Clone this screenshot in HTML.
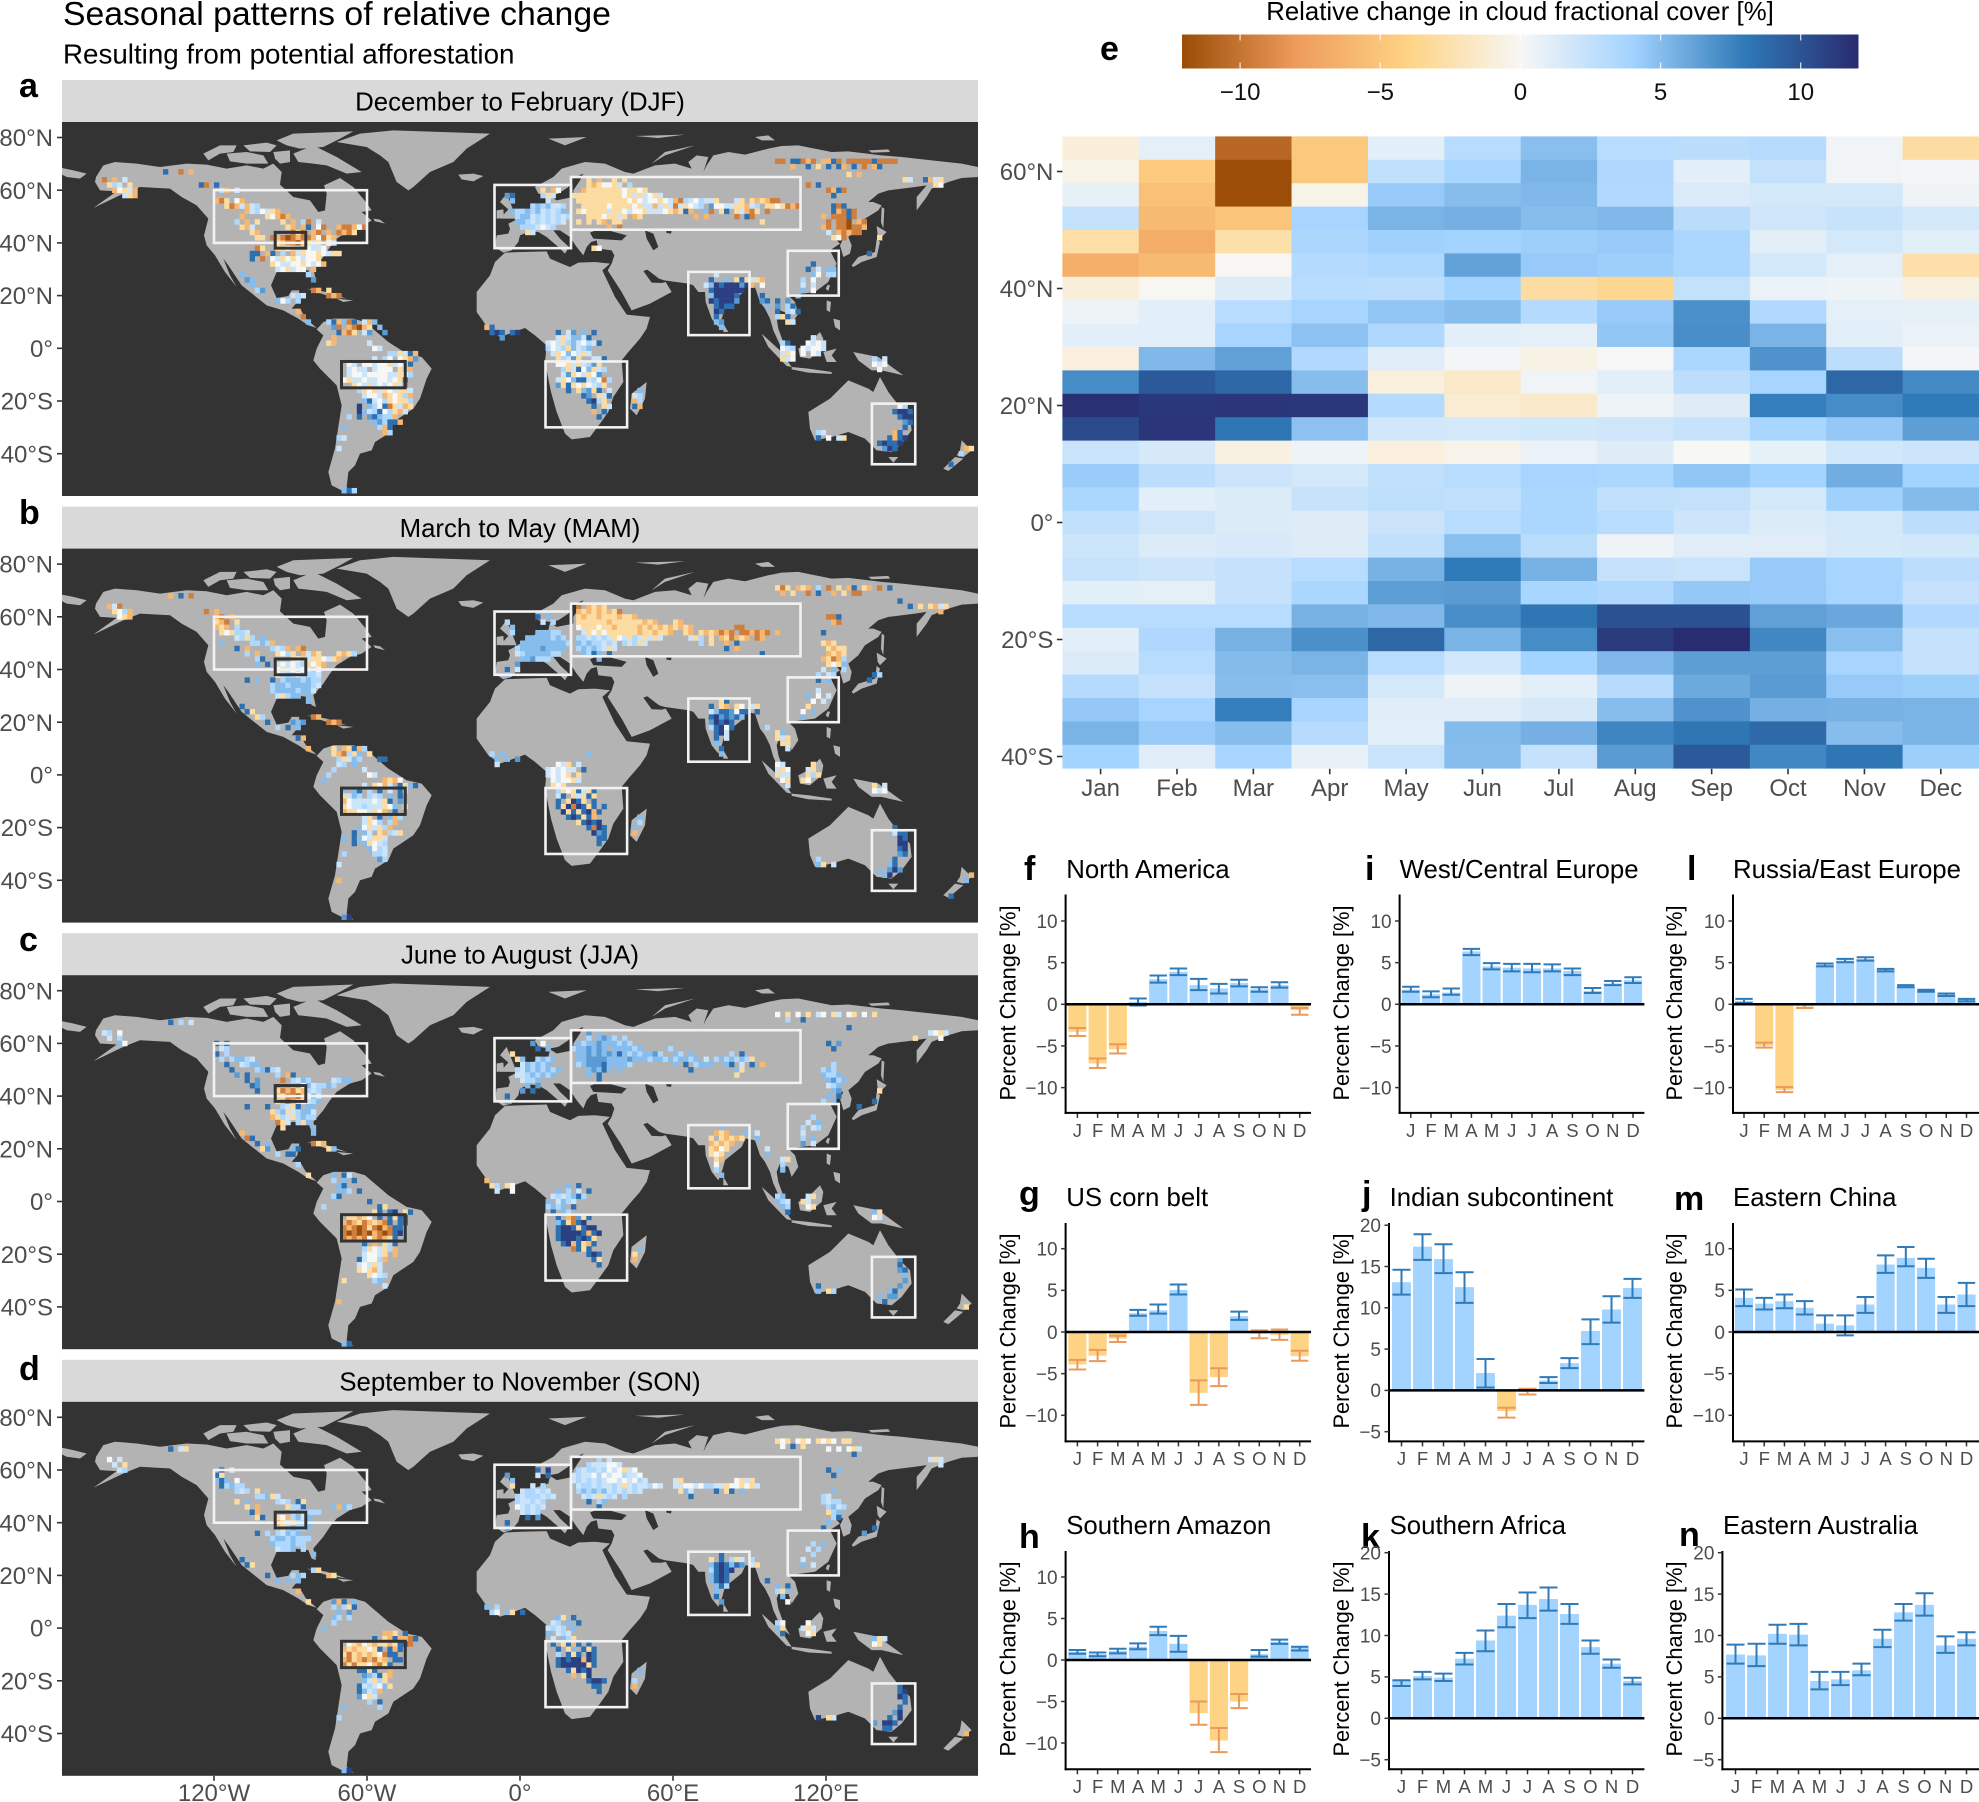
<!DOCTYPE html>
<html lang="en">
<head>
<meta charset="utf-8">
<title>Seasonal patterns of relative change</title>
<style>
html,body{margin:0;padding:0;background:#fff;width:1979px;height:1802px;overflow:hidden}
svg{display:block;font-family:"Liberation Sans",Arial,sans-serif}
.head{fill:#000;font-size:25.8px}
.letter{fill:#000;font-size:34px;font-weight:bold}
.ytitle{fill:#000;font-size:21.8px;text-anchor:middle}
</style>
</head>
<body>
<svg id="figure" xmlns="http://www.w3.org/2000/svg" width="1979" height="1802" viewBox="0 0 1979 1802">
<defs>
<g id="land" fill="#b3b3b3">
<path d="M108 165L130 130L165 120L230 125L300 135L380 125L440 128L500 140L560 130L610 140L640 125L665 150L660 188L700 225L750 235L775 270L795 265L800 215L792 190L840 168L880 195L920 243L935 265L905 270L935 295L905 315L870 325L830 350L810 375L790 405L760 440L768 475L755 470L745 445L700 440L650 450L633 490L650 528L685 522L695 505L718 505L712 540L695 560L720 560L738 590L770 618L745 610L715 590L670 565L620 550L570 510L545 490L505 430L490 410L510 460L530 495L495 450L465 400L440 370L432 340L445 290L410 250L365 225L330 200L240 195L190 215L100 258L170 208L120 205L105 180Z"/>
<path d="M6 138L40 145L80 155L60 170L20 165L6 158Z"/>
<path d="M770 622L790 600L820 590L880 590L915 600L950 630L985 660L1040 695L1085 705L1115 740L1100 770L1080 830L1060 860L1000 900L985 935L945 960L935 985L900 995L885 1030L865 1050L860 1095L880 1113L845 1105L815 1090L805 1050L825 980L845 850L830 790L780 740L760 715L770 680L790 640Z"/>
<path d="M830 60L900 35L1000 25L1290 35L1220 80L1180 120L1110 150L1060 195L1045 205L1010 180L985 120L960 100L920 75Z"/>
<path d="M700 95L760 70L830 105L905 150L860 155L800 130L760 125L715 120Z"/>
<path d="M500 95L560 90L610 100L625 125L560 125L510 118Z"/>
<path d="M430 95L480 70L530 70L520 90L480 95L445 115Z"/>
<path d="M650 55L700 35L880 28L840 50L790 75L720 80L680 70Z"/>
<path d="M550 70L620 62L650 70L630 90L570 88Z"/>
<path d="M640 90L690 85L690 120L660 125L645 110Z"/>
<path d="M1195 158L1240 155L1270 162L1240 178L1205 172Z"/>
<path d="M940 290L960 293L975 305L955 300L945 298Z"/>
<path d="M740 500L800 510L860 530L800 520Z"/>
<path d="M830 530L880 535L850 540Z"/>
<path d="M1320 240L1340 215L1370 290L1320 290L1345 262Z"/>
<path d="M1310 265L1330 262L1332 288L1310 290Z"/>
<g transform="translate(1365 0)">
<path d="M-55 340L-60 375L-35 392L-10 385L10 360L15 340L45 328L70 330L95 345L130 375L150 395L162 375L135 350L115 325L135 325L165 345L185 375L205 400L215 375L228 360L245 355L250 380L290 385L298 400L290 425L278 445L320 510L350 565L405 545L470 510L452 480L440 483L410 482L385 447L397 443L432 470L448 475L520 485L535 490L550 510L570 510L572 540L590 590L610 615L622 585L630 555L680 515L692 490L720 495L735 540L750 560L765 590L775 625L800 680L825 700L808 670L790 620L785 590L795 565L820 575L830 605L850 575L840 540L820 520L860 515L900 510L940 480L965 425L945 385L975 365L955 345L985 350L975 370L985 405L1005 395L1010 370L1000 345L1030 320L1050 290L1090 265L1100 250L1075 240L1060 240L1090 215L1120 205L1200 195L1235 190L1205 225L1205 265L1235 225L1250 200L1300 180L1340 168L1389 165L1389 135L1340 125L1250 115L1160 105L1100 100L1000 88L950 90L850 70L800 72L760 80L690 98L640 90L595 100L575 130L565 150L580 105L545 100L520 120L530 140L480 125L420 130L355 155L330 150L290 150L280 165L330 150L270 125L210 120L140 140L115 165L60 195L70 215L105 220L130 215L160 195L170 170L205 155L195 175L175 205L175 225L150 230L125 235L105 222L100 245L60 258L30 275L0 295L-20 305L-15 320L-20 335Z"/>
<path d="M-30 392L20 390L95 388L105 410L140 425L165 435L190 422L240 420L285 425L262 445L300 525L335 578L405 585L395 620L375 650L340 690L320 715L325 780L295 825L280 870L255 905L225 945L170 952L150 935L125 870L108 810L90 720L95 670L60 640L30 618L-45 645L-80 620L-115 570L-115 510L-75 460L-60 420Z"/>
<path d="M225 332L255 320L280 325L335 340L320 355L270 352L235 350Z" fill="#333333"/>
<path d="M390 325L415 335L430 375L415 385L395 350Z" fill="#333333"/>
<path d="M452 322L470 325L468 335L455 333Z" fill="#333333"/>
<path d="M395 780L390 830L365 880L345 860L350 815Z"/>
<path d="M625 605L640 630L625 630Z"/>
<path d="M1100 255L1108 260L1105 320L1098 300Z"/>
<path d="M1085 312L1115 330L1095 350L1088 340Z"/>
<path d="M1010 430L1030 405L1080 390L1085 352L1095 360L1085 405L1040 420L1015 435Z"/>
<path d="M938 488L945 490L940 507L932 500Z"/>
<path d="M935 535L948 540L945 570L935 565Z"/>
<path d="M955 590L975 595L975 625L960 615Z"/>
<path d="M850 680L880 665L915 630L925 650L920 680L885 710L855 705Z"/>
<path d="M925 690L965 680L950 700L965 720L935 720Z"/>
<path d="M830 735L880 740L950 750L950 756L880 752L830 742Z"/>
<path d="M740 635L800 690L830 735L815 732L760 675Z"/>
<path d="M1015 690L1090 705L1165 760L1100 745L1070 745L1030 715Z"/>
<path d="M880 870L945 830L1000 775L1060 800L1075 810L1095 765L1120 810L1155 855L1185 885L1190 925L1160 965L1130 990L1085 985L1050 950L1000 930L950 945L900 955L885 920Z"/>
<path d="M1120 1005L1150 1005L1135 1022Z"/>
<path d="M1340 955L1370 985L1345 1005L1325 1000L1335 985Z"/>
<path d="M1320 1005L1345 1010L1300 1047L1285 1040Z"/>
<path d="M100 50L215 45L150 70Z"/>
<path d="M410 125L450 90L540 70L450 100Z"/>
<path d="M360 42L510 38L430 48Z"/>
<path d="M720 45L760 40L780 55L740 55Z"/>
<path d="M1060 85L1120 82L1125 90L1070 92Z"/>
</g>
</g>
<linearGradient id="colorbar-gradient" x1="0" x2="1" y1="0" y2="0"></linearGradient>
</defs>

<text x="63" y="25" font-size="33.75" fill="#000">Seasonal patterns of relative change</text>
<text x="63" y="63.5" font-size="27.75" fill="#000">Resulting from potential afforestation</text>

<text class="letter" x="19" y="97">a</text>
<text class="letter" x="19" y="524">b</text>
<text class="letter" x="19" y="951">c</text>
<text class="letter" x="19" y="1380">d</text>
<text class="letter" x="1100" y="60">e</text>
<text class="letter" x="1024" y="880">f</text>
<text class="letter" x="1365" y="880">i</text>
<text class="letter" x="1687" y="880">l</text>
<text class="letter" x="1019" y="1205">g</text>
<text class="letter" x="1362" y="1205">j</text>
<text class="letter" x="1674" y="1210">m</text>
<text class="letter" x="1019" y="1548">h</text>
<text class="letter" x="1361" y="1548">k</text>
<text class="letter" x="1679" y="1546">n</text>

<rect x="62" y="80" width="916" height="42" fill="#d9d9d9"/>
<rect x="62" y="506.6" width="916" height="42" fill="#d9d9d9"/>
<rect x="62" y="933.2" width="916" height="42" fill="#d9d9d9"/>
<rect x="62" y="1359.8" width="916" height="42" fill="#d9d9d9"/>
<text class="head" x="520" y="110.5" text-anchor="middle">December to February (DJF)</text>
<text class="head" x="520" y="537" text-anchor="middle">March to May (MAM)</text>
<text class="head" x="520" y="963.7" text-anchor="middle">June to August (JJA)</text>
<text class="head" x="520" y="1390.3" text-anchor="middle">September to November (SON)</text>

<text class="head" x="1520" y="20" text-anchor="middle">Relative change in cloud fractional cover [%]</text>

<text class="head" x="1066.2" y="878">North America</text>
<text class="head" x="1399.6" y="878">West/Central Europe</text>
<text class="head" x="1733" y="878">Russia/East Europe</text>
<text class="head" x="1066.2" y="1206">US corn belt</text>
<text class="head" x="1389.6" y="1206">Indian subcontinent</text>
<text class="head" x="1733" y="1206">Eastern China</text>
<text class="head" x="1066.2" y="1534">Southern Amazon</text>
<text class="head" x="1389.6" y="1534">Southern Africa</text>
<text class="head" x="1723" y="1534">Eastern Australia</text>

<text class="ytitle" transform="translate(1015.5 1003) rotate(-90)">Percent Change [%]</text>
<text class="ytitle" transform="translate(1349 1003) rotate(-90)">Percent Change [%]</text>
<text class="ytitle" transform="translate(1682 1003) rotate(-90)">Percent Change [%]</text>
<text class="ytitle" transform="translate(1015.5 1331) rotate(-90)">Percent Change [%]</text>
<text class="ytitle" transform="translate(1349 1331) rotate(-90)">Percent Change [%]</text>
<text class="ytitle" transform="translate(1682 1331) rotate(-90)">Percent Change [%]</text>
<text class="ytitle" transform="translate(1015.5 1659) rotate(-90)">Percent Change [%]</text>
<text class="ytitle" transform="translate(1349 1659) rotate(-90)">Percent Change [%]</text>
<text class="ytitle" transform="translate(1682 1659) rotate(-90)">Percent Change [%]</text>

<g id="maps"></g>
<g id="colorbar"></g>
<g id="heatmap"></g>
<g id="bars"></g>
</svg>

<script>
/* ---------- colour scale ---------- */
const scaleValues = [-12, -8, -4, 0, 4, 8, 12];
const scaleColors = ["#9c4e08", "#ee9b5c", "#fed384", "#f7f7f5", "#a3d3ff", "#2f7ab8", "#292c70"];
const colorbarTicks = [-10, -5, 0, 5, 10];
const colorbarTickLabels = ["\u221210", "\u22125", "0", "5", "10"];

/* ---------- heatmap ---------- */
const monthNames = ["Jan","Feb","Mar","Apr","May","Jun","Jul","Aug","Sep","Oct","Nov","Dec"];
const heatLatitudes = [64,60,56,52,48,44,40,36,32,28,24,20,16,12,8,4,0,-4,-8,-12,-16,-20,-24,-28,-32,-36,-40];
const heatTicks = [60,40,20,0,-20,-40];
const heatTickLabels = ["60\u00b0N","40\u00b0N","20\u00b0N","0\u00b0","20\u00b0S","40\u00b0S"];
const heatValues = [
[-1,.9,-10.7,-4.7,1,3,4.9,3,2.9,3.1,.3,-3],
[-.5,-4.6,-12,-4.7,2.6,3.7,5.4,3.4,1,2.5,.3,.2],
[.8,-5.3,-12,-.5,4.4,5,5.2,3.3,1.4,1.7,1.7,.4],
[2.5,-5.8,-5,3.8,5.4,5.6,5,5.2,2.9,1.9,2.3,1.7],
[-2.8,-6.7,-2.7,3.6,4.1,4,4.2,4.4,3.6,1,1.7,1],
[-6.5,-5.8,-.1,3.2,3.5,6.2,4.4,4.2,3.6,1.7,.9,-2.7],
[-1,-.1,1.2,3,2.8,4,-3,-3.6,2.5,.6,.5,-.8],
[.5,1,3,3.8,4.6,5,3.2,4.4,7,3.3,.9,.8],
[1,1,3.8,4.8,3.4,1,.9,4.6,7.1,5.4,1,.6],
[-.9,5.2,6.3,3.3,1.1,.2,-.6,.1,3.6,6.9,2.8,.2],
[7.2,9.7,9,5,-.9,-1.6,.3,1,2.8,3.8,9,7.3],
[11.8,11.4,11.5,11.4,3.2,-1.2,-1.5,.5,1.2,7.8,7.2,8],
[10.4,11.5,8.2,4.8,1.8,1.7,1.8,1.9,2.3,3.7,4.5,6.4],
[2.2,1.6,-.7,.5,-.9,-.4,.6,1.2,0,.8,1.8,2],
[4.3,2.8,2,1.7,2.6,3,3.8,3.6,4.6,4,5.7,4],
[3.6,1,1.3,2.3,2.7,2.6,3.6,2.6,2.5,1.7,4.1,5.1],
[2.6,1.9,1.3,1.2,2.1,3,3.6,3,2,1.3,1.7,2.8],
[2,1.3,1.5,1.2,2.6,4.9,2.9,.4,1.1,1.1,1.6,1.8],
[2.3,2,2.4,3,5.5,8,5.5,2.4,2.2,4.4,3.7,2.8],
[1,.9,2.4,3.6,6.4,6.5,3.7,3.4,4.5,4.4,3.8,2.4],
[3,3,3,5.5,5.2,7.1,8.2,10.1,10.1,6.3,6,3.3],
[1,3.4,5.5,7,9,5.4,7.2,11.2,12,7.4,4.9,2.4],
[1.3,3,5.1,5.4,3,1.8,4,5.2,6.4,6.4,3.8,2.4],
[3.2,2.4,5,4.9,1.7,.5,1,3.1,5.9,6.5,4.4,4.2],
[4.5,3.8,7.8,3.8,1.1,1.1,1.6,5,6.9,5.6,5.5,5.4],
[5.4,4.4,5,3.1,1,5.1,5.6,7.5,8.2,8.8,5,5.4],
[4,1.1,3.7,.7,2.2,5,2.4,6.5,9.7,7.4,8.2,4.2]
];

/* ---------- regional bar charts: mean, error low, error high ---------- */
const monthLetters = ["J","F","M","A","M","J","J","A","S","O","N","D"];
const northAmericaMeans = [-3.3,-7.1,-5.4,.3,3,3.9,2.3,1.9,2.55,1.8,2.3,-.7];
const northAmericaLow = [-3.8,-7.65,-5.9,-.15,2.6,3.5,1.7,1.3,2.15,1.5,2,-1.25];
const northAmericaHigh = [-2.85,-6.5,-4.8,.7,3.45,4.3,3.05,2.45,2.95,2.05,2.65,-.45];
const westEuropeMeans = [1.75,1.2,1.4,6.35,4.55,4.4,4.3,4.3,4,1.6,2.5,2.9];
const westEuropeLow = [1.5,.85,1.15,5.9,4.2,3.95,3.85,3.95,3.5,1.35,2.3,2.55];
const westEuropeHigh = [2.1,1.55,1.9,6.65,4.95,4.85,4.85,4.8,4.3,1.95,2.8,3.25];
const russiaMeans = [.4,-5,-10.3,-.25,4.75,5.25,5.45,4.2,2.2,1.7,1.25,.6];
const russiaLow = [.15,-5.2,-10.55,-.45,4.55,5.05,5.25,3.95,2.05,1.5,1,.35];
const russiaHigh = [.65,-4.6,-9.95,0,4.9,5.45,5.65,4.25,2.3,1.75,1.3,.65];
const cornBeltMeans = [-3.9,-2.85,-.8,2.25,2.6,5.05,-7.3,-5.4,1.9,-.2,-.35,-2.9];
const cornBeltLow = [-4.5,-3.5,-1.2,1.95,2.2,4.5,-8.75,-6.5,1.45,-.75,-.95,-3.45];
const cornBeltHigh = [-3.35,-2.15,-.45,2.65,3.3,5.7,-5.8,-4.35,2.45,.2,.3,-2.25];
const indiaMeans = [13.1,17.4,15.9,12.5,2.1,-2.5,-.2,1.2,3.3,7.2,9.8,12.4];
const indiaLow = [11.6,15.8,14.2,10.6,.35,-3.3,-.5,.9,2.7,5.6,8.2,11.2];
const indiaHigh = [14.6,18.9,17.7,14.3,3.8,-2.1,.2,1.6,3.9,8.6,11.4,13.5];
const chinaMeans = [4.1,3.4,3.7,2.9,1,.8,3.3,8.1,8.9,7.7,3.3,4.5];
const chinaLow = [3.1,2.7,2.85,2.1,0,-.4,2.3,7.1,7.9,6.5,2.3,3.1];
const chinaHigh = [5.1,4.1,4.5,3.7,2,2,4.2,9.2,10.2,8.8,4.2,5.9];
const amazonMeans = [1,.7,1.1,1.6,3.5,1.95,-6.4,-9.7,-5,.7,2.2,1.5];
const amazonLow = [.75,.45,.8,1.3,3,1,-7.8,-11.1,-5.8,.4,1.95,1.15];
const amazonHigh = [1.2,.9,1.35,2,4,2.9,-5,-8.2,-4.1,1.2,2.45,1.6];
const africaMeans = [4.6,5.1,4.9,7.2,9.4,12.4,13.7,14.4,12.6,8.6,6.6,4.5];
const africaLow = [3.9,4.7,4.5,6.5,8.1,11,12.1,13,11.4,7.8,6.1,4.1];
const africaHigh = [4.6,5.6,5.4,7.9,10.6,13.8,15.2,15.8,13.8,9.4,7.1,4.9];
const australiaMeans = [7.7,7.6,10.2,10.1,4.5,4.7,5.8,9.6,12.8,13.7,8.8,9.6];
const australiaLow = [6.6,6.3,9,8.8,3.5,4,5.2,8.6,11.8,12.4,7.9,8.8];
const australiaHigh = [8.9,9,11.3,11.4,5.6,5.6,6.6,10.7,13.8,15.1,9.9,10.4];
const shortTicks = [10,5,0,-5,-10];
const tallTicks = [20,15,10,5,0,-5];

/* ---------- map axes and study regions (lon/lat) ---------- */
const lonTicks = [-120,-60,0,60,120];
const lonTickLabels = ["120\u00b0W","60\u00b0W","0\u00b0","60\u00b0E","120\u00b0E"];
const latTicks = [80,60,40,20,0,-20,-40];
const latTickLabels = ["80\u00b0N","60\u00b0N","40\u00b0N","20\u00b0N","0\u00b0","20\u00b0S","40\u00b0S"];
const whiteRegions = [[-120,-60,40,60],[-10,20,38,62],[20,110,45,65],[66,90,5,29],[105,125,20,37],[10,42,-30,-5],[138,155,-44,-21]];
const blackRegions = [[-96,-84,38,44],[-70,-45,-15,-5]];

/* ---------- map cells: [lat, first lon, codes on a 2 degree grid] ---------- */
const cellLevels = {a:-12,b:-9.5,c:-6,d:-3,"0":0,"1":2,"2":3.5,"3":5,"4":6.5,"5":8.5,"6":11};
const djfCells = [
[64,-164,"b.c.1"],[62,-162,"d21.d"],[60,-160,"c0d1c"],[58,-158,".1dc."],[67,-140,"5..b.c"],[62,-126,"5b.5"],[60,-118,"2c.1"],
[56,-120,"cbd.0c"],[54,-116,"dbc1c12"],[52,-108,"c1201dc"],[50,-100,"d0cbc"],[50,-110,"c"],[48,-112,"2.c.d"],[48,-94,"d.c.2b.1"],
[46,-92,"dc.c5.0b"],[46,-72,"cbbc0b"],[46,-110,"dc1"],[44,-108,".dc"],[44,-90,"bdb.cb.c.bcbd"],[42,-104,"dd.b"],[42,-96,"cbabcbbc0bdc"],
[40,-96,"dcbbacd1d.01"],[38,-96,"dd0d1d0110"],[38,-104,"bd"],[36,-98,"5.2.c1d00d01dd"],[36,-106,"55.c"],[34,-106,"5.b"],[34,-98,"01d0d0100d"],
[32,-98,"d01100d010c"],[30,-96,"10d100.c"],[28,-84,"2"],[26,-82,"4"],[28,-110,"3"],[26,-108,"43"],[24,-106,"3"],[22,-104,"24"],[20,-90,"121"],[18,-96,"302.2"],
[22,-82,"bc.d"],[20,-76,"bcb"],[14,-88,"c"],[12,-86,"b"],[10,-84,"3"],
[10,-76,"25c3b5.1c3"],[8,-74,"4b.cbacd.3"],[6,-72,"5cbd.14"],[6,-54,"4"],[4,-74,"c..."],[2,-76,"dc"],[2,-60,"1"],[0,-58,"01"],
[-2,-52,"22d15c"],[-4,-58,"1.20.0dc4"],[-6,-68,"01.00100d1025"],[-8,-70,".1011.1000.d2c"],[-10,-68,"1001000011d02"],[-12,-70,"0d110110010d5"],[-14,-66,"d01d1010d1b"],
[-16,-64,"2d0d1d01dd1"],[-18,-62,"1001cd0d2c"],[-20,-62,"35102d0dd2"],[-22,-64,"6.3205bd1cd"],[-24,-64,"6312502dc1"],[-26,-64,"5.45322c"],[-28,-58,"34255c"],[-30,-56,"2c5"],[-32,-54,"c2"],
[-26,-68,"2"],[-30,-70,"3"],[-34,-72,"21"],[-38,-72,"1"],[-54,-70,"352"],
[8,-14,"c5"],[6,-12,"565"],[6,-4,"56"],[4,-8,"4"],
[6,14,"5.14.3.5"],[4,10,"..1d13315"],[2,10,"101d2310215"],[0,10,"2012d3123"],[-2,12,"1d0301d1"],[-4,14,"d214d..115"],[-6,14,"00d1d124d"],[-8,16,"2d1503d12"],[-10,16,"14d01d04"],
[-12,14,"1d0355120b2"],[-14,14,"4d5d0d012d"],[-16,18,"5.d34d5.1"],[-18,24,"54.d15"],[-20,26,"562d"],[-22,28,"5.d1"],[-24,28,"c.5"],[-26,30,"5"],
[-16,46,"3"],[-18,44,"12"],[-20,44,"c2"],[-22,44,"5c"],
[58,-6,"45"],[56,-4,"3"],[52,-4,"32"],[60,8,"d.c0"],[58,8,"2d1"],[56,10,"1"],
[54,4,"2323112"],[52,0,"232312123"],[50,-2,"23312121212"],[48,-2,"3321212121"],[46,0,"2221012"],[44,2,"d1"],
[64,26,"d.c..d.d"],[62,26,"dcd00d1.2"],[60,24,"cddddddd0dd"],[60,46,"0d"],[58,20,"dddddddddd0d1d"],[58,48,"10d1"],[56,22,"dddddddddd0d010"],[56,52,"0d01"],[54,24,"ddddd0dddd0d11c1"],[54,56,"d1"],[52,22,"d0dddd1dd0100d11"],[52,54,"10d"],[50,26,"ddd0dd1d.cd"],[48,22,"d.d.dc.dd"],[46,32,".c.b"],
[56,60,"cb210211d"],[56,84,"1d.dc"],[56,94,"dcbb"],[54,60,"b1d012.40011ddcd"],[54,90,"12.dd0dbcb"],[52,60,"cd5c"],[52,72,"3b.d5.d1cbd.b"],[50,68,"c.c"],[50,84,"b.5b"],[48,92,".d"],
[71,100,"bb.55bcb.cc5b.bbbbb5bbbb"],[69,100,"...c..5.d.5.5c.5.b.c5"],[66,128,"d.c"],[62,112,"b.5"],[60,120,"bc5b"],[58,122,"5"],[64,150,"d1"],[64,158,"5c1d"],[62,162,"d0"],
[54,122,"5b5"],[52,122,"5cb5b"],[50,118,"c.bbb5b"],[48,120,"b.bba.cb"],[46,118,"cb.bbabbc"],[44,120,"1.cbcbb"],[42,122,"d0b"],
[28,76,"1"],[26,74,"5..3.d5"],[24,72,"1365666466"],[22,74,"5666666"],[20,74,"366665"],[18,74,"656664"],[16,76,"5655"],[14,76,"65"],[12,76,"5"],[10,76,"34"],[8,78,"3"],[26,88,"d1dc"],[24,90,"c.0"],
[20,94,"5"],[18,94,"45"],[16,96,"3.5"],[18,100,"5.4"],[16,100,"4.25"],[14,100,"5.215"],[12,100,"2d5"],[10,104,"d1"],
[2,102,"25"],[0,102,"012"],[-2,100,".1d0"],[-4,102,"d10"],[4,114,"1"],[2,112,"0101"],[0,110,"01001"],[-2,110,"0.01"],[-4,138,"2.1"],[-6,138,"010"],[-8,140,"0"],
[32,114,"5"],[30,112,"5.1.33"],[28,114,"30.22"],[26,110,"2.0"],[24,110,"1.1"],[22,110,"3.0"],[20,108,"3"],
[-22,148,"02"],[-24,146,"5665"],[-26,148,"566"],[-28,150,"45"],[-30,150,"5"],[-32,146,"c5"],[-34,144,"5c56"],[-36,138,".56556"],[-38,142,"465"],
[-32,116,"21"],[-34,116,"5.0.1d"],[-38,174,"cd"],[-40,172,"2"],[-44,168,"5"],[36,136,"5"],[42,140,"d"],[38,28,"d0"]
];
const mamCells = [
[64,-162,"c1b"],[62,-160,"d02c"],[60,-158,"0dc"],[68,-138,"c.5.b"],[62,-124,"b.c"],
[60,-120,"cb.c"],[58,-120,"dcb.d"],[56,-120,"cdc.2"],[54,-118,"d0d221"],[52,-112,"12d2.3"],[50,-106,"2232c"],[50,-118,"3"],[48,-98,"212c.cb"],[48,-112,"5.c"],[46,-108,"2.c"],[46,-96,"d02d.c1cd"],[46,-72,"dcd2"],[44,-106,".25"],[44,-90,"d0d1dd01dc"],[42,-104,"3.5"],[42,-96,"101012d0dc"],[40,-96,"0d1010120"],[38,-96,"012101221"],[36,-98,"5.23332322"],[36,-108,"5.3"],[34,-98,"2332333321"],[32,-98,"233332331"],[30,-96,"1d233.3"],[28,-84,"3"],[26,-110,"5"],[24,-108,"5d"],[22,-104,"d2"],[20,-100,"5"],[20,-90,"434"],[18,-96,"2.5.3"],[22,-82,"bc"],[20,-76,"bcb"],[14,-88,"5c"],[10,-84,"c"],
[10,-74,"d.cd5c2"],[8,-74,"dcb2d3.d"],[6,-72,"2d132"],[6,-56,"55"],[4,-72,"12.3"],[2,-74,"2"],[2,-62,"1"],[0,-76,"2"],[0,-60,"01"],[-2,-78,"3"],[-2,-54,"cdc0"],[-4,-62,"1.d0c1.5"],[-4,-46,"d35"],
[-6,-70,"3.35.2.5.1.52"],[-8,-70,"d132.212.3.5"],[-10,-70,"c0111101d5.4"],[-12,-70,"d0112111d03.d"],[-14,-70,"cdd001d0c.5"],[-16,-62,"1d.5.3c2"],[-18,-62,"1d02.2c"],[-20,-64,"30d1d2c"],[-22,-66,"5.31.dc21d"],[-24,-66,"5301dd1"],[-26,-66,"5.3d012"],[-28,-60,"3021"],[-30,-58,"221"],[-32,-56,"42"],[-24,-70,"3"],[-30,-70,"2"],[-34,-72,"1"],[-40,-72,"c"],[-54,-70,"46"],
[58,-6,"2"],[60,6,"5.3"],[58,8,"1.2"],[56,-4,"3"],[54,-4,"2"],[54,6,"33322"],[52,2,"33333232"],[50,0,"3333333332"],[48,-2,"2333343333"],[46,-2,"123333322"],[44,0,"334222"],[42,-2,"4"],[40,-6,"5.1"],[38,-6,"3"],
[64,22,"b.cdcd"],[62,22,"cdcdcdcdb"],[60,22,"dcddcdddcd"],[60,42,"dc"],[58,22,"ddddddcddddd"],[58,46,"dcdc"],[56,22,"0ddd0ddcddddc"],[56,48,"dcdcdc"],[54,24,"1d0d0ddddd"],[54,44,"dcddcddc"],[52,22,"2212121d0"],[52,40,"1d21d1d1"],[50,22,"32322121.2"],[50,42,"12d1"],[48,22,"232321d1"],[46,24,"3253.5"],[44,30,"3"],
[58,60,"dc"],[56,60,"dcdc"],[56,84,"bb"],[54,64,"dc.dcdcbcb.bbcbcb.c"],[52,66,"1d2.d.cdbcdc.bc"],[50,70,"2.d..c.5"],[48,80,"5.c"],[46,94,"5"],
[71,100,"dbd.cdc.2.b.d.c5.dc.b.5"],[69,102,"c.d..b.5..c.d.bb"],[60,120,"bb5"],[58,122,"cb"],[64,152,"5.d"],[64,160,"dc1d"],[62,164,"c"],[66,148,"5"],
[54,118,"5"],[50,118,"dcd"],[48,120,"dcdd"],[46,120,"cdcd"],[44,118,"cdbc2"],[42,120,"d0d3"],[40,118,"1.3.2"],[38,116,"2.12"],[36,116,"5.3"],[38,138,"52"],[36,136,"5"],
[32,116,"1"],[30,112,"3.0.1"],[28,114,"0.1"],[26,112,"d"],[24,110,"0.3"],[22,110,"3"],
[28,78,"d5"],[26,74,"5.dc.d0"],[24,74,"13554055"],[22,74,"5645453"],[20,74,"46565"],[18,74,"25605"],[16,76,"561"],[14,76,"5.1"],[12,76,"3"],[10,78,"5"],[8,78,"3"],[26,90,"1d"],[24,92,"5"],
[18,96,"2"],[16,100,"d3"],[14,100,"d1d"],[12,102,"dd"],[10,104,"1"],[4,100,"01"],[2,100,"1d0"],[0,100,"d11"],[-2,102,"0d"],[-4,104,"1"],[4,114,"d"],[2,112,"1d"],[0,112,"d2d"],[-2,110,"d0"],[-4,138,"d.1"],[-6,138,"010"],
[8,-12,"2.3"],[6,-10,"3"],[6,-6,"3.4"],[4,-10,"1"],[8,26,"3"],
[4,14,"01d.1"],[2,10,"101011.5"],[0,10,"1010d.d"],[-2,12,"0100d1"],[-4,12,"d0d"],[-6,14,"2d0d51d5"],[-8,14,"15.d1d5d"],[-10,14,"5.d65d.5"],[-12,14,"5d6b65d5.5"],[-14,16,"6d5d56c5"],[-16,18,"565d5c"],[-18,22,"d5656"],[-20,26,"5b65"],[-22,28,"645"],[-24,30,"55"],[-26,30,"5"],
[-16,46,"3"],[-18,46,"2"],[-20,44,"3"],[-22,44,"c"],
[-20,146,"5"],[-22,146,"155"],[-24,148,"65"],[-26,148,"66"],[-28,148,"56"],[-30,148,"45"],[-32,146,"5"],[-34,144,"35"],[-36,140,"3.464"],[-38,142,"36"],[-34,116,"3d.1"],[-32,116,"2"],[-40,174,"3"],[-38,176,"c"],[-46,168,"5"]
];
const jjaCells = [
[62,-162,"1.2"],[60,-160,".30"],[64,-164,"12.0"],[68,-138,"5.2.1"],
[60,-120,"5.5"],[58,-118,"12"],[56,-120,"5.2"],[54,-118,"2.23321"],[52,-116,"5..1233"],[50,-104,"23521"],[50,-114,"5"],[48,-96,"2.c5"],[48,-112,"4.5"],[46,-108,"5.4"],[46,-94,"b.2132"],[46,-74,"1233"],[44,-106,"54"],[44,-90,"c.0312232"],[42,-104,"5"],[42,-96,"dbcbdc212"],[40,-96,"cdbbac031"],[38,-96,"dcbcd0123"],[36,-100,"5..21d5.33"],[36,-108,"5"],[34,-98,"d23d12331"],[32,-98,"cd21d2322"],[30,-96,"bd1.2d3"],[28,-94,"d"],[28,-82,"3"],[26,-110,"c"],[26,-82,"3"],[24,-108,"b5"],[22,-104,"5.3"],[20,-102,"d4"],[20,-90,"35"],[18,-96,"2.55"],[22,-82,"bdc"],[20,-76,"d3"],[14,-88,"2"],[10,-84,"d"],
[10,-74,"3.51"],[8,-74,"2.3.5"],[6,-72,"35"],[4,-72,"332.5"],[2,-74,"25"],[0,-60,"5"],[-2,-56,"5d"],[-2,-78,"2"],[-4,-58,"d5.56"],[-4,-46,"d5"],
[-6,-68,"ddcd0.5.5d55"],[-8,-70,"cbcdbcdcb5.55"],[-10,-70,"bcbabdbacb55"],[-12,-70,"bababacbab56"],[-14,-70,"bcbcb0cbcd5"],[-16,-66,"..5.c.d25"],[-18,-62,"2d01d2c"],[-20,-62,"1001d.c"],[-22,-64,"51002c"],[-24,-64,"101d1"],[-26,-64,"d0dc1"],[-28,-60,"d012"],[-30,-58,"23"],[-32,-54,"1"],[-30,-70,"d"],[-38,-72,"c"],[-54,-70,"35"],
[60,4,"4.0"],[58,6,"5.3"],[56,-4,"d"],[54,-2,"d3"],[54,6,"2323"],[52,0,"132323"],[50,-2,"213232323"],[48,-2,"11232323"],[46,0,"1223"],[44,2,"3.4"],[42,0,"4.5"],[40,-6,"5"],[38,-6,"4"],
[64,26,"4.3"],[62,26,"2.3432.2"],[60,22,"323343332"],[60,40,"32"],[58,20,"2334343.33"],[58,40,"3323"],[56,22,"33434343532"],[56,44,"323342"],[54,22,"334444333"],[54,40,"34333233"],[52,22,"2344453"],[52,36,"3332"],[50,26,"3435"],[50,34,"3.3"],[48,26,"3.5"],[46,30,"5"],
[58,58,"2"],[56,60,"32.3"],[56,82,"2.5"],[54,56,"2323323.1.2323232d"],[52,60,"3.5.2333"],[52,80,"35.1.5.c"],[50,66,"5"],[50,84,"3d"],[48,84,"d"],
[71,100,"0.d.0.d.10.d1.0d.0.d"],[69,104,"2..5"],[66,128,"5"],[60,120,"5.4"],[58,122,"5"],[62,154,"d"],[64,160,"10d1"],[62,164,"0"],
[52,122,"2"],[50,118,"232"],[48,118,"3223"],[46,120,"3423"],[44,120,"123"],[42,122,"34"],[40,120,"3.5"],[38,118,"2.3"],[42,140,"d"],[38,138,"5"],[36,132,"5"],
[32,114,"2"],[30,112,"1.3"],[28,110,"2.12"],[26,110,"1"],[24,110,"2.3"],[22,110,"4.1"],
[28,78,"3"],[26,76,"cdc"],[24,74,"d.dcdcd"],[22,74,"cdcdc"],[20,74,"dc0d"],[18,74,"d0d"],[16,76,"dc"],[14,76,"0"],[12,76,"2"],[10,78,"3"],[24,92,"3"],[26,88,"3.1"],
[20,96,"1"],[16,102,"1d"],[14,102,"2"],[12,102,"3"],[18,96,"3"],[2,100,"23"],[0,100,"321"],[-2,102,"32"],[-4,104,"5"],[2,112,"1d"],[0,110,"d1"],[-2,112,"0d"],[-4,138,"3d"],[-6,138,"01"],
[8,-14,"c"],[6,-12,"d2"],[6,-6,"d0"],[4,-10,"1"],[4,-4,"0"],
[6,18,"3.5"],[4,14,"3.2.1.5"],[2,12,"1212352"],[0,10,"3.1321"],[-2,10,"2323.5"],[-4,12,"5.32"],[-6,14,"5.cb4d5"],[-8,14,"35db56"],[-10,14,"5665d566"],[-12,14,"566665c56"],[-14,14,"5666565d"],[-16,16,"56c5dc5"],[-18,20,"b5d5"],[-20,26,"565"],[-22,28,"5d"],[-24,30,"5"],
[-18,46,"3"],[-20,44,"d"],[-22,44,"c"],
[-22,148,"4"],[-24,148,"5"],[-26,148,"45"],[-28,150,"3"],[-30,150,"4"],[-32,148,"4"],[-34,144,"35"],[-36,138,".3.44"],[-38,142,"5"],[-34,116,"3.d2"],[-32,116,"5"],[-40,174,"d"]
];
const sonCells = [
[64,-162,"0.1"],[62,-160,"1.d"],[60,-158,"12"],[68,-138,"5.1d"],
[60,-118,"5.1"],[58,-120,"5d"],[56,-120,"353.0"],[54,-118,"52322"],[52,-112,"212.d"],[50,-104,"223d1"],[48,-112,"d.3"],[48,-96,"212.5d"],[46,-108,"d.c"],[46,-92,"d225"],[46,-74,"3c32"],[44,-106,"5c"],[44,-90,"2.1222"],[42,-104,"d5"],[42,-96,"d0c2313"],[40,-96,"cd1d223"],[38,-96,"2d23223"],[36,-104,"5.2.5"],[36,-96,"21323"],[34,-98,"23323222"],[32,-98,"3222322"],[30,-96,"1223.2"],[28,-82,"3"],[26,-110,"5"],[24,-108,"5d"],[20,-100,"5"],[20,-90,"232"],[18,-96,"3.3.3"],[22,-82,"2d"],[20,-76,"cd"],[14,-88,"c"],[10,-84,"d"],
[10,-74,"4c5.3"],[8,-74,"2.2d5"],[6,-72,"3.4"],[4,-74,"32.2"],[2,-74,"2"],[0,-78,"3"],[-2,-50,"d.5"],[-2,-54,"cc"],[-4,-58,"5.dc5c"],[-4,-46,"cb5"],
[-6,-68,"0dc0dcddcd55b"],[-8,-70,"cdcdd0d5.5c5"],[-10,-70,"dbdcdcd0b55"],[-12,-70,"cbdcbcbdc.55"],[-14,-70,"bdbdd0cbd5"],[-16,-64,"55d5..c"],[-18,-62,"4325dc"],[-20,-62,"31d2d"],[-22,-64,"512103d"],[-24,-64,"5312c"],[-26,-64,"40d1"],[-28,-60,"2.5"],[-30,-56,"2"],[-30,-70,"3"],[-34,-72,"2"],[-54,-70,"36"],
[60,6,"5.6"],[58,-6,"4"],[58,6,"1.5"],[56,-4,"3"],[54,-4,"d"],[54,4,"1.2"],[52,0,"122121"],[50,-2,"21222121"],[48,-2,"211212"],[46,-2,"012121"],[44,0,"1212"],[42,2,"5.4"],[40,-6,"5"],[38,-6,"4"],
[64,30,"2.1"],[62,26,"2111001"],[60,22,"212212010d"],[60,42,"10"],[58,20,"1211020100"],[58,40,"2110"],[56,20,"12121210010"],[56,42,"1021"],[54,22,"122121121d"],[54,42,"1211201"],[52,22,"23232312"],[52,38,"12121"],[50,24,"121d12"],[50,36,"1.2"],[48,26,"5.23"],[46,30,"5"],
[56,60,"1d"],[56,84,"0d1d"],[54,60,"1100102211d00d0d1"],[52,60,".d31"],[52,76,"5.d5.3"],[50,66,"5"],
[71,100,"d0d.0d0.d0d0.dd"],[69,102,"0.5.d"],[68,120,"0.0.0d1"],[66,130,"5"],[60,120,"5.3"],[58,122,"5"],[64,160,"1d1"],[62,164,"1"],
[52,122,"3"],[50,118,"21"],[48,118,"2122"],[46,120,"2312"],[44,120,"d23"],[42,122,"25"],[40,120,"3"],[38,118,"5"],[38,138,"5"],[36,134,"4"],
[32,114,"2.3"],[30,112,"1.2"],[28,114,"2"],[26,110,"1"],[24,110,"3.1"],
[28,78,"5"],[26,74,"d.5.2d1"],[24,74,"3565354"],[22,74,"25656"],[20,74,"3565"],[18,74,"3565"],[16,76,"352"],[14,76,"3"],[12,76,"5"],[10,78,"4"],[24,90,"1d"],[26,90,"2"],
[18,96,"5"],[16,100,"3.5"],[14,100,"2d3"],[12,102,"3"],[10,104,"0"],[2,100,"20"],[0,100,"3d"],[-2,102,"5"],[2,112,"0"],[0,110,"1d1"],[-2,112,"0d"],[-4,138,"3d1"],[-6,138,"0d"],
[8,-14,"3.2"],[6,-12,"20"],[6,-6,"3d.5"],
[4,14,"3d.5"],[2,12,"12.3.5"],[0,10,"1212.3"],[-2,10,"3.121"],[-4,12,"1.32d"],[-6,12,"5.d5c5.5"],[-8,14,"5.d3.5d5"],[-10,14,"2.5d5.65"],[-12,14,"56566c65"],[-14,14,"566666d5"],[-16,18,"5d656"],[-18,20,"c.d6"],[-20,26,"5665"],[-22,28,"55"],[-24,30,"5"],
[-16,46,"3"],[-20,44,"2"],[-22,44,"c"],
[-22,148,"5"],[-24,148,"56"],[-26,148,"65"],[-28,150,"5"],[-30,148,"5"],[-32,146,"46"],[-34,144,"5.6"],[-36,138,"4.665"],[-38,142,"55"],[-34,116,"6.d1"],[-40,174,"c"]
];

/* ---------- helpers ---------- */
const NS = "http://www.w3.org/2000/svg";
function make(tag, attrs, parent, text) {
  const el = document.createElementNS(NS, tag);
  for (const k in attrs) el.setAttribute(k, attrs[k]);
  if (text !== undefined) el.textContent = text;
  parent.appendChild(el);
  return el;
}
function hexToRgb(h) { return [parseInt(h.slice(1,3),16), parseInt(h.slice(3,5),16), parseInt(h.slice(5,7),16)]; }
function colorOf(v) {
  const c = Math.max(scaleValues[0], Math.min(scaleValues[scaleValues.length-1], v));
  let i = 0;
  while (i < scaleValues.length-2 && c > scaleValues[i+1]) i++;
  const t = (c - scaleValues[i]) / (scaleValues[i+1] - scaleValues[i]);
  const a = hexToRgb(scaleColors[i]), b = hexToRgb(scaleColors[i+1]);
  return "rgb(" + a.map((x,j) => Math.round(x + (b[j]-x)*t)).join(",") + ")";
}

/* ---------- maps ---------- */
const mapsRoot = document.getElementById("maps");
const seasonCells = [djfCells, mamCells, jjaCells, sonCells];
const seasonKeys = ["djf", "mam", "jja", "son"];
const mapHeight = 374, mapLeft = 62, mapWidth = 916, seasonStep = 426.6, firstMapTop = 122;
const lonX = lon => 520 + 2.55 * lon;
const latY = (top, lat) => top + 226.3 - 2.635 * lat;

seasonCells.forEach((cells, s) => {
  const top = firstMapTop + s * seasonStep;
  const panel = make("g", {}, mapsRoot);
  
  
  const bg = make("rect", {x: mapLeft, y: top, width: mapWidth, height: mapHeight, fill: "#333333"}, panel);
  
  
  const land = make("use", {href: "#land", transform: "translate(60 " + top + ") scale(0.33333)"}, panel);
  
  
  cells.forEach(row => {
    const lat = row[0], lon0 = row[1], codes = row[2];
    for (let i = 0; i < codes.length; i++) {
      const level = cellLevels[codes[i]];
      if (level === undefined) continue;
      const lon = lon0 + 2 * i;
      const cell = make("rect", {x: lonX(lon), y: latY(top, lat + 1), width: lonX(lon + 2) - lonX(lon) + 0.2, height: latY(top, lat - 1) - latY(top, lat + 1) + 0.2, fill: colorOf(level)}, panel);
      
      
    }
  });
  whiteRegions.concat(blackRegions).forEach((r, i) => {
    const isWhite = i < whiteRegions.length;
    const box = make("rect", {x: lonX(r[0]), y: latY(top, r[3]), width: lonX(r[1]) - lonX(r[0]), height: latY(top, r[2]) - latY(top, r[3]), fill: "none", stroke: isWhite ? "#f2f2f2" : "#333333", "stroke-width": isWhite ? 2.6 : 3}, panel);
    
    
  });
  latTicks.forEach((lat, i) => {
    const y = latY(top, lat);
    const tick = make("line", {x1: 57, x2: mapLeft, y1: y, y2: y, stroke: "#333", "stroke-width": 1.6}, panel);
    
    
    const label = make("text", {x: 53, y: y + 8.6, "text-anchor": "end", "font-size": 24, fill: "#4d4d4d"}, panel, latTickLabels[i]);
    
    
  });
  if (s === 3) {
    lonTicks.forEach((lon, i) => {
      const x = lonX(lon);
      const tick = make("line", {x1: x, x2: x, y1: top + mapHeight, y2: top + mapHeight + 5, stroke: "#333", "stroke-width": 1.6}, panel);
      
      
      const label = make("text", {x: x, y: 1801, "text-anchor": "middle", "font-size": 24, fill: "#4d4d4d"}, panel, lonTickLabels[i]);
      
      
    });
  }
});

/* ---------- colour bar ---------- */
const cbRoot = document.getElementById("colorbar");
const cbLeft = 1182, cbRight = 1858.5, cbTop = 34.5, cbBottom = 68.5;
const cbX = v => 1520.4 + 28.03 * v;
const gradient = document.getElementById("colorbar-gradient");
scaleValues.forEach((v, i) => {
  make("stop", {offset: (cbX(v) - cbLeft) / (cbRight - cbLeft), "stop-color": scaleColors[i]}, gradient);
});
const cbRect = make("rect", {x: cbLeft, y: cbTop, width: cbRight - cbLeft, height: cbBottom - cbTop, fill: "url(#colorbar-gradient)"}, cbRoot);


colorbarTicks.forEach((v, i) => {
  const x = cbX(v);
  [[cbTop, cbTop + 6], [cbBottom - 6, cbBottom]].forEach(seg => {
    const tick = make("line", {x1: x, x2: x, y1: seg[0], y2: seg[1], stroke: "#ffffff", "stroke-width": 1.2, "stroke-opacity": 0.85}, cbRoot);
    
    
  });
  const label = make("text", {x: x, y: 100, "text-anchor": "middle", "font-size": 24, fill: "#111"}, cbRoot, colorbarTickLabels[i]);
  
  
});

/* ---------- heatmap ---------- */
const heatRoot = document.getElementById("heatmap");
const heatLeft = 1062.4, heatRight = 1979, heatBottom = 768.8, heatTop = 137;
const colWidth = (heatRight - heatLeft) / monthNames.length;
const monthX = i => heatLeft + colWidth * (i + 0.5);
const heatLatY = lat => 522.5 - 5.85 * lat;
heatLatitudes.forEach((lat, r) => {
  monthNames.forEach((m, c) => {
    const cell = make("rect", {x: heatLeft + colWidth * c, y: heatLatY(lat + 2), width: colWidth + 0.4, height: heatLatY(lat - 2) - heatLatY(lat + 2) + 0.4, fill: colorOf(heatValues[r][c])}, heatRoot);
    
    
  });
});
heatTicks.forEach((lat, i) => {
  const y = heatLatY(lat);
  const tick = make("line", {x1: heatLeft - 5.5, x2: heatLeft, y1: y, y2: y, stroke: "#333", "stroke-width": 1.6}, heatRoot);
  
  
  const label = make("text", {x: heatLeft - 9, y: y + 8.6, "text-anchor": "end", "font-size": 24, fill: "#4d4d4d"}, heatRoot, heatTickLabels[i]);
  
  
});
monthNames.forEach((m, i) => {
  const x = monthX(i);
  const tick = make("line", {x1: x, x2: x, y1: heatBottom, y2: heatBottom + 5.5, stroke: "#333", "stroke-width": 1.6}, heatRoot);
  
  
  const label = make("text", {x: x, y: 796, "text-anchor": "middle", "font-size": 24, fill: "#4d4d4d"}, heatRoot, m);
  
  
});

/* ---------- bar charts ---------- */
const barsRoot = document.getElementById("bars");
const barPanels = [
 {key:"north-america", means:northAmericaMeans, low:northAmericaLow, high:northAmericaHigh, ticks:shortTicks, x0:1065.6, x1:1311, first:1077.4, last:1299.7, top:894.5, bottom:1112.9, zero:1004.3, ppu:8.33, tickY:1130},
 {key:"west-central-europe", means:westEuropeMeans, low:westEuropeLow, high:westEuropeHigh, ticks:shortTicks, x0:1399.6, x1:1644.4, first:1410.8, last:1633, top:894.5, bottom:1112.9, zero:1004.3, ppu:8.33, tickY:1130},
 {key:"russia-east-europe", means:russiaMeans, low:russiaLow, high:russiaHigh, ticks:shortTicks, x0:1733, x1:1979, first:1744, last:1966.5, top:894.5, bottom:1112.9, zero:1004.3, ppu:8.33, tickY:1130},
 {key:"us-corn-belt", means:cornBeltMeans, low:cornBeltLow, high:cornBeltHigh, ticks:shortTicks, x0:1065.6, x1:1311, first:1077.4, last:1299.7, top:1223, bottom:1441.4, zero:1332, ppu:8.33, tickY:1458},
 {key:"indian-subcontinent", means:indiaMeans, low:indiaLow, high:indiaHigh, ticks:tallTicks, x0:1389, x1:1644.4, first:1401.5, last:1632.5, top:1223, bottom:1441.4, zero:1390.4, ppu:8.26, tickY:1458},
 {key:"eastern-china", means:chinaMeans, low:chinaLow, high:chinaHigh, ticks:shortTicks, x0:1733, x1:1979, first:1744, last:1966.5, top:1223, bottom:1441.4, zero:1332, ppu:8.33, tickY:1458},
 {key:"southern-amazon", means:amazonMeans, low:amazonLow, high:amazonHigh, ticks:shortTicks, x0:1065.6, x1:1311, first:1077.4, last:1299.7, top:1551, bottom:1769.3, zero:1660, ppu:8.3, tickY:1786},
 {key:"southern-africa", means:africaMeans, low:africaLow, high:africaHigh, ticks:tallTicks, x0:1389, x1:1644.4, first:1401.5, last:1632.5, top:1551, bottom:1769.3, zero:1718.3, ppu:8.28, tickY:1786},
 {key:"eastern-australia", means:australiaMeans, low:australiaLow, high:australiaHigh, ticks:tallTicks, x0:1722.4, x1:1979, first:1735.5, last:1966.5, top:1551, bottom:1769.3, zero:1718.3, ppu:8.28, tickY:1786}
];
barPanels.forEach(p => {
  const g = make("g", {}, barsRoot);
  
  
  const step = (p.last - p.first) / 11;
  const xOf = i => p.first + step * i;
  const yOf = v => p.zero - v * p.ppu;
  const barW = step * 0.9, capW = step * 0.86;
  p.means.forEach((m, i) => {
    const x = xOf(i), negative = m < 0;
    const y0 = Math.min(yOf(m), yOf(0));
    const bar = make("rect", {x: x - barW / 2, y: y0, width: barW, height: Math.abs(yOf(m) - yOf(0)), fill: negative ? "#fed384" : "#a3d3ff"}, g);
    
    
    const col = negative ? "#ea9a5c" : "#2f7ab8";
    const yl = yOf(p.low[i]), yh = yOf(p.high[i]);
    const err = make("path", {d: "M" + (x - capW / 2) + " " + yl + "H" + (x + capW / 2) + "M" + (x - capW / 2) + " " + yh + "H" + (x + capW / 2) + "M" + x + " " + yl + "V" + yh, fill: "none", stroke: col, "stroke-width": 2}, g);
    
    
    const tick = make("line", {x1: x, x2: x, y1: p.bottom, y2: p.bottom + 5, stroke: "#333", "stroke-width": 1.5}, g);
    
    
    const label = make("text", {x: x, y: p.tickY + 7, "text-anchor": "middle", "font-size": 18.5, fill: "#4d4d4d"}, g, monthLetters[i]);
    
    
  });
  const zero = make("line", {x1: p.x0, x2: p.x1, y1: yOf(0), y2: yOf(0), stroke: "#000", "stroke-width": 2.5}, g);
  
  
  const yAxis = make("line", {x1: p.x0, x2: p.x0, y1: p.top, y2: p.bottom + 1, stroke: "#000", "stroke-width": 2}, g);
  
  
  const xAxis = make("line", {x1: p.x0 - 1, x2: p.x1, y1: p.bottom, y2: p.bottom, stroke: "#000", "stroke-width": 2}, g);
  
  
  p.ticks.forEach(v => {
    const y = yOf(v);
    const tick = make("line", {x1: p.x0 - 4.5, x2: p.x0, y1: y, y2: y, stroke: "#333", "stroke-width": 1.5}, g);
    
    
    const label = make("text", {x: p.x0 - 8, y: y + 6.8, "text-anchor": "end", "font-size": 19, fill: "#4d4d4d"}, g, String(v).replace("-", "\u2212"));
    
    
  });
});
</script>
</body>
</html>
